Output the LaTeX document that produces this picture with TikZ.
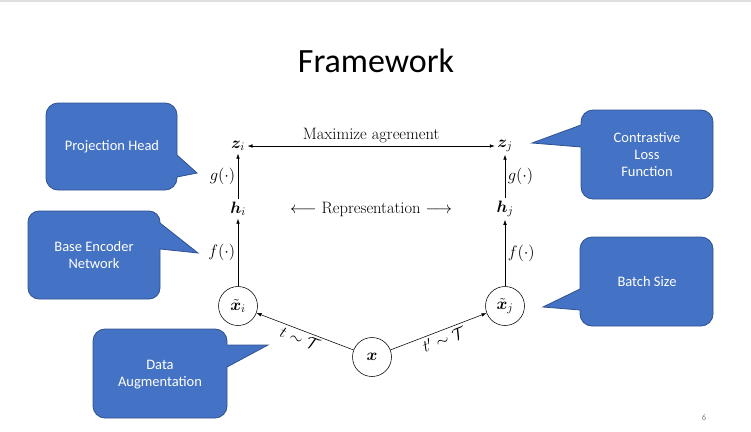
\RequirePackage{fix-cm}
\documentclass[tikz,border=0pt]{standalone}
\usepackage{amsmath}
\usepackage{bm}
\usepackage{fontspec}
\newfontfamily\slidefont{Carlito}
\usetikzlibrary{arrows.meta}
\definecolor{bubblefill}{HTML}{4472C4}
\definecolor{bubbleline}{HTML}{2F528F}
\tikzset{
  bubble/.style={fill=bubblefill, draw=bubbleline, line width=0.8pt, rounded corners=12pt},
  bubbleedge/.style={draw=bubbleline, line width=0.8pt, line join=miter},
  bubbletext/.style={text=white, font=\slidefont\fontsize{14.5}{17}\selectfont, align=center},
  arr/.style={-{Latex[length=5pt,width=3.6pt]}, line width=0.55pt},
  mathlbl/.style={font=\fontsize{16.5}{19}\selectfont, inner sep=2.5pt},
  slopelbl/.style={font=\fontsize{16.5}{19}\selectfont, inner sep=2.5pt, sloped, below},
  circ/.style={draw, circle, line width=0.55pt, minimum size=39pt, inner sep=0pt, font=\fontsize{16.5}{19}\selectfont}
}
\begin{document}
\begin{tikzpicture}[x=1pt,y=-1pt]
                \useasboundingbox (0,0) rectangle (751,431);
                % slide edge
                \draw [gray!25, line width=1.5pt] (0,0.75) -- (751,0.75);%

                % Title
                \node [anchor=base] (title) at (376,72) {\slidefont\fontsize{34}{40}\selectfont Framework};%

                % Marking point x by circle
                \node [circ] (x) at (372,357) {$\bm{x}$};%

                % Marking points x_i, x_j by circle
                \node [circ] (xti) at (238,306) {$\bm{\tilde{x}}_i$};%
                \node [circ] (xtj) at (505,306) {$\bm{\tilde{x}}_j$};%

                % Marking points h_i, h_j
                \node [mathlbl] (hi) at (238,209) {$\bm{h}_i$};%
                \node [mathlbl] (hj) at (505,209) {$\bm{h}_j$};%

                % Marking points z_i, z_j
                \node [mathlbl] (zi) at (238,146) {$\bm{z}_i$};%
                \node [mathlbl] (zj) at (505,146) {$\bm{z}_j$};%

                % Drawing segment x xt_i and x xt_j
                \draw [arr] (x) -- node [slopelbl, pos=0.52] {$t\sim\mathcal{T}$} (xti);%
                \draw [arr] (x) -- node [slopelbl, pos=0.52] {$t'\sim\mathcal{T}$} (xtj);%

                % Drawing segment xt h
                \draw [arr] (xti) -- node [mathlbl, left] {$f(\cdot)$} (hi);%
                \draw [arr] (xtj) -- node [mathlbl, right] {$f(\cdot)$} (hj);%

                % Drawing segment h z
                \draw [arr] (hi) -- node [mathlbl, left] {$g(\cdot)$} (zi);%
                \draw [arr] (hj) -- node [mathlbl, right] {$g(\cdot)$} (zj);%

                % Drawing segment z_i z_j
                \draw [arr, {Latex[length=5pt,width=3.6pt]}-{Latex[length=5pt,width=3.6pt]}] (zi) -- node [mathlbl, above] {Maximize agreement} (zj);%
                \path (hi) -- node [mathlbl] {$\longleftarrow$ Representation $\longrightarrow$} (hj);%

                % Drawing bubble Projection Head
                \filldraw [bubble] (46,103) rectangle (177,190);%
                \fill [bubblefill] (175,155) -- (177,155) -- (197,173) -- (177,177) -- (175,177) -- cycle;%
                \draw [bubbleedge] (177,155) -- (197,173) -- (177,177);%
                \node [bubbletext] (projhead) at (112,147) {Projection Head};%

                % Drawing bubble Base Encoder Network
                \filldraw [bubble, rounded corners=11pt] (28,211) rectangle (160,299);%
                \fill [bubblefill] (158,223) -- (160,223) -- (198,253) -- (160,249) -- (158,249) -- cycle;%
                \draw [bubbleedge] (160,223) -- (198,253) -- (160,249);%
                \node [bubbletext] (encoder) at (94,255) {Base Encoder\\Network};%

                % Drawing bubble Data Augmentation
                \filldraw [bubble] (93,329) rectangle (227,418);%
                \fill [bubblefill] (225,345) -- (268,345) -- (227,367) -- (225,367) -- cycle;%
                \draw [bubbleedge] (227,345) -- (268,345) -- (227,367);%
                \node [bubbletext] (augment) at (160,375) {Data\\Augmentation};%

                % Drawing bubble Contrastive Loss Function
                \filldraw [bubble] (581,110) rectangle (713,199);%
                \fill [bubblefill] (583,125) -- (581,125) -- (532,143) -- (581,147) -- (583,147) -- cycle;%
                \draw [bubbleedge] (581,125) -- (532,143) -- (581,147);%
                \node [bubbletext] (lossfn) at (647,155) {Contrastive\\Loss\\Function};%

                % Drawing bubble Batch Size
                \filldraw [bubble] (580,237) rectangle (713,326);%
                \fill [bubblefill] (582,289) -- (580,289) -- (543,307) -- (580,310) -- (582,310) -- cycle;%
                \draw [bubbleedge] (580,289) -- (543,307) -- (580,310);%
                \node [bubbletext] (batch) at (647,282) {Batch Size};%

                % Page number
                \node [text=gray, font=\slidefont\fontsize{8.5}{10}\selectfont] (page) at (704,418) {6};%
            \end{tikzpicture}
\end{document}
